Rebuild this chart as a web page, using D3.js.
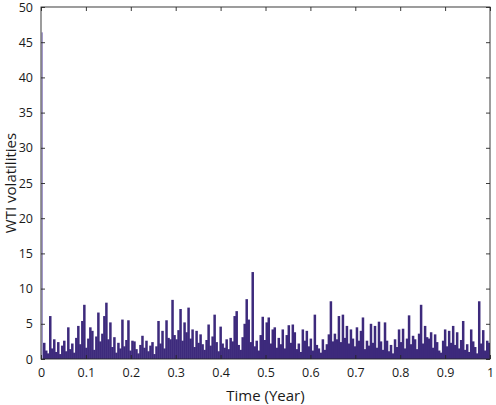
<!DOCTYPE html>
<html>
<head>
<meta charset="utf-8">
<script src="https://cdn.jsdelivr.net/npm/d3@7"></script>
<style>
  body { margin: 0; background: #fff; }
  text { font-family: "Open Sans", "Liberation Sans", sans-serif; fill: #1a1a1a; }
</style>
</head>
<body>
<svg id="chart" width="496" height="405"></svg>
<script>
// WTI volatility, one value per step across one year
var vol = [
  46.4, 2.3, 1.2, 0.8, 6.1, 1.5, 2.8, 1.0, 2.4, 0.7, 1.9, 2.6, 1.1, 4.5, 1.4,
  2.2, 0.9, 3.0, 4.7, 2.1, 5.4, 7.7, 1.6, 2.9, 4.5, 4.0, 1.3, 3.2, 6.6, 2.5, 3.6,
  6.1, 8.0, 2.8, 5.2, 1.7, 3.1, 0.9, 2.3, 1.5, 5.6, 1.8, 2.7, 5.5, 1.2, 2.6,
  2.5, 1.4, 0.8, 2.0, 3.3, 1.6, 2.6, 1.1, 1.9, 2.4, 0.7, 1.8, 5.4, 2.2, 4.0,
  1.5, 5.5, 3.0, 2.8, 8.4, 3.4, 2.8, 4.1, 7.1, 2.6, 5.2, 3.8, 7.3, 2.9, 4.2,
  1.7, 4.0, 2.3, 3.5, 2.1, 1.3, 2.7, 4.9, 1.9, 3.2, 6.3, 2.4, 1.1, 4.6, 2.2,
  1.6, 2.8, 1.4, 3.0, 2.5, 6.1, 6.8, 2.0, 1.3, 3.1, 5.0, 8.5, 5.6, 2.4, 12.35,
  1.8, 2.6, 1.2, 3.4, 6.0, 2.7, 5.2, 5.9, 2.2, 4.2, 4.5, 1.6, 3.0, 2.1, 4.2,
  1.5, 3.4, 4.8, 2.3, 4.9, 3.8, 1.4, 2.2, 1.0, 4.2, 2.6, 4.0, 1.8, 2.9, 1.2,
  6.3, 2.0, 1.5, 0.9, 2.8, 1.3, 2.1, 3.5, 8.2, 2.5, 3.6, 2.8, 6.1, 2.4, 6.3,
  3.0, 4.7, 2.2, 4.2, 2.9, 1.8, 4.5, 2.6, 4.0, 5.9, 1.4, 2.6, 1.9, 5.0, 2.3,
  4.7, 1.6, 5.3, 2.5, 1.3, 5.2, 2.6, 1.1, 2.0, 0.8, 2.8, 1.7, 4.2, 2.4, 4.3,
  1.5, 2.9, 6.2, 2.1, 3.3, 2.8, 1.4, 3.6, 7.7, 2.2, 4.7, 3.1, 2.9, 3.8, 1.6,
  3.5, 2.4, 1.2, 0.9, 2.6, 4.2, 1.8, 4.0, 2.3, 4.7, 2.0, 3.8, 1.5, 2.7, 5.4,
  1.3, 2.1, 1.0, 4.2, 2.5, 1.7, 0.8, 8.2, 2.2, 4.1, 1.2, 2.6, 2.3, 1.7
];

var xTicks = [0, 0.1, 0.2, 0.3, 0.4, 0.5, 0.6, 0.7, 0.8, 0.9, 1];
var yTicks = [0, 5, 10, 15, 20, 25, 30, 35, 40, 45, 50];

var margin = { top: 7, right: 6, bottom: 46, left: 41 };
var width = 496 - margin.left - margin.right,
    height = 405 - margin.top - margin.bottom;

var svg = d3.select('#chart');
var g = svg.append('g')
  .attr('transform', 'translate(' + margin.left + ',' + margin.top + ')');

var x = d3.scaleLinear().domain([0, 1]).range([0, width]);
var y = d3.scaleLinear().domain([0, 50]).range([height, 0]);

var step = 1 / (vol.length - 1);
var barW = x(step);

g.append('clipPath').attr('id', 'plot')
  .append('rect').attr('width', width).attr('height', height);

// each bar starts at its time stamp so the first spike sits on the left edge
g.append('g')
  .attr('clip-path', 'url(#plot)')
  .selectAll('rect')
  .data(vol)
  .enter().append('rect')
    .attr('x', function (d, i) { return x(i * step) + (i === 0 ? 0.6 : 0); })
    .attr('y', function (d) { return y(d); })
    .attr('width', function (d, i) { return i === 0 ? 1.2 : barW + 0.5; })
    .attr('height', function (d) { return height - y(d); })
    .attr('fill', function (d, i) { return i === 0 ? '#8c80bd' : '#3d2a7c'; });

// axes, MATLAB style: ticks inward on all four sides
var fmt = d3.format('');
var axisStyle = function (sel) {
  sel.select('.domain').remove();
  sel.selectAll('line').attr('stroke', '#262626').attr('stroke-width', 0.9);
  sel.selectAll('text').style('font-size', '12.5px').attr('fill', '#1a1a1a');
};

g.append('g')
  .attr('transform', 'translate(0,' + height + ')')
  .call(d3.axisBottom(x).tickValues(xTicks).tickFormat(fmt).tickSizeInner(-4).tickPadding(9))
  .call(axisStyle);

g.append('g')
  .call(d3.axisTop(x).tickValues(xTicks).tickFormat('').tickSizeInner(-4))
  .call(axisStyle);

g.append('g')
  .call(d3.axisLeft(y).tickValues(yTicks).tickFormat(fmt).tickSizeInner(-4).tickPadding(8))
  .call(axisStyle);

g.append('g')
  .attr('transform', 'translate(' + width + ',0)')
  .call(d3.axisRight(y).tickValues(yTicks).tickFormat('').tickSizeInner(-4))
  .call(axisStyle);

g.append('rect')
  .attr('width', width)
  .attr('height', height)
  .attr('fill', 'none')
  .attr('stroke', '#262626')
  .attr('stroke-width', 0.9);

svg.append('text')
  .attr('x', margin.left + width / 2)
  .attr('y', 401)
  .attr('text-anchor', 'middle')
  .style('font-size', '15px')
  .text('Time (Year)');

svg.append('text')
  .attr('transform', 'translate(16,' + (margin.top + height / 2) + ') rotate(-90)')
  .attr('text-anchor', 'middle')
  .style('font-size', '15px')
  .text('WTI volatilities');
</script>
</body>
</html>
